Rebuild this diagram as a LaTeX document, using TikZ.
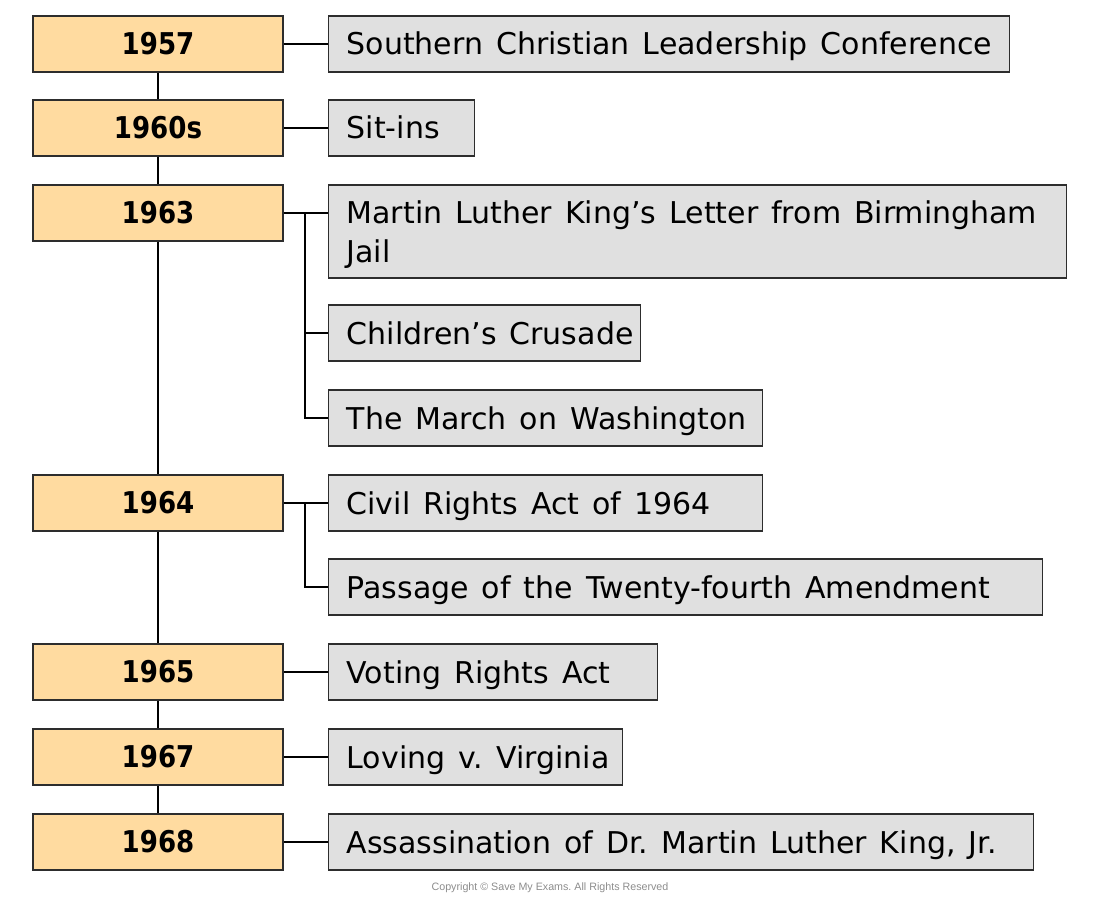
\documentclass[tikz,border=0pt]{standalone}
\usepackage{fontspec}
\setmainfont{DejaVu Sans}
\newfontfamily\yearfamily[FakeStretch=0.87]{DejaVu Sans}
\newfontfamily\notefamily{Liberation Sans}
\definecolor{yearfill}{RGB}{255,219,160}
\definecolor{eventfill}{RGB}{224,224,224}
\definecolor{boxline}{RGB}{45,45,45}
\hyphenpenalty=10000
\frenchspacing

\begin{document}
\begin{tikzpicture}[x=1pt, y=-1pt, line width=1.4pt,
		year_style/.style={rectangle,draw=boxline,fill=yearfill,minimum width=250pt,minimum height=56pt,
			font=\yearfamily\bfseries\fontsize{30}{36}\selectfont},
		event_style/.style={rectangle,draw=boxline,fill=eventfill,anchor=west,minimum height=56pt,
			inner xsep=0pt,text width=#1,align=left,text height=22pt,text depth=0pt,
			font=\fontsize{30}{39}\selectfont,
			execute at begin node={\leftskip=18pt\spaceskip=13pt plus 2pt minus 2pt}},
		edge_style/.style={draw=black}]

		\useasboundingbox (0,0) rectangle (1100,904);

		\node[year_style] (y1) at (158,44)  {1957};
		\node[year_style] (y2) at (158,128) {1960s};
		\node[year_style] (y3) at (158,213) {1963};
		\node[year_style] (y4) at (158,503) {1964};
		\node[year_style] (y5) at (158,672) {1965};
		\node[year_style] (y6) at (158,757) {1967};
		\node[year_style] (y7) at (158,842) {1968};

		\node[event_style=681pt] (e1) at (328,44)  {Southern Christian Leadership Conference};
		\node[event_style=146pt] (e2) at (328,128) {Sit-ins};
		\node[event_style=738pt,minimum height=93pt,text height=24pt,text depth=39pt] (e3) at (328,231.5) {Martin Luther King’s Letter from Birmingham\\Jail};
		\node[event_style=312pt] (e4) at (328,333) {Children’s Crusade};
		\node[event_style=434pt] (e5) at (328,418) {The March on Washington};
		\node[event_style=434pt] (e6) at (328,503) {Civil Rights Act of 1964};
		\node[event_style=714pt] (e7) at (328,587) {Passage of the Twenty-fourth Amendment};
		\node[event_style=329pt] (e8) at (328,672) {Voting Rights Act};
		\node[event_style=294pt] (e9) at (328,757) {Loving v. Virginia};
		\node[event_style=705pt] (e10) at (328,842) {Assassination of Dr. Martin Luther King, Jr.};

		\coordinate (b3) at (305,213);
		\coordinate (b4) at (305,503);

		\draw[edge_style] (y1) -- (y2);
		\draw[edge_style] (y2) -- (y3);
		\draw[edge_style] (y3) -- (y4);
		\draw[edge_style] (y4) -- (y5);
		\draw[edge_style] (y5) -- (y6);
		\draw[edge_style] (y6) -- (y7);

		\draw[edge_style] (y1) -- (e1);
		\draw[edge_style] (y2) -- (e2);
		\draw[edge_style] (y3.east) -- (y3.east -| e3.west);
		\draw[edge_style] (b3) |- (e4.west);
		\draw[edge_style] (b3) |- (e5.west);
		\draw[edge_style] (y4) -- (e6);
		\draw[edge_style] (b4) |- (e7.west);
		\draw[edge_style] (y5) -- (e8);
		\draw[edge_style] (y6) -- (e9);
		\draw[edge_style] (y7) -- (e10);

		\node[font=\notefamily\fontsize{10.7}{12}\selectfont,text=black!45] (copy) at (550,888) {Copyright © Save My Exams. All Rights Reserved};

		\end{tikzpicture}
\end{document}
